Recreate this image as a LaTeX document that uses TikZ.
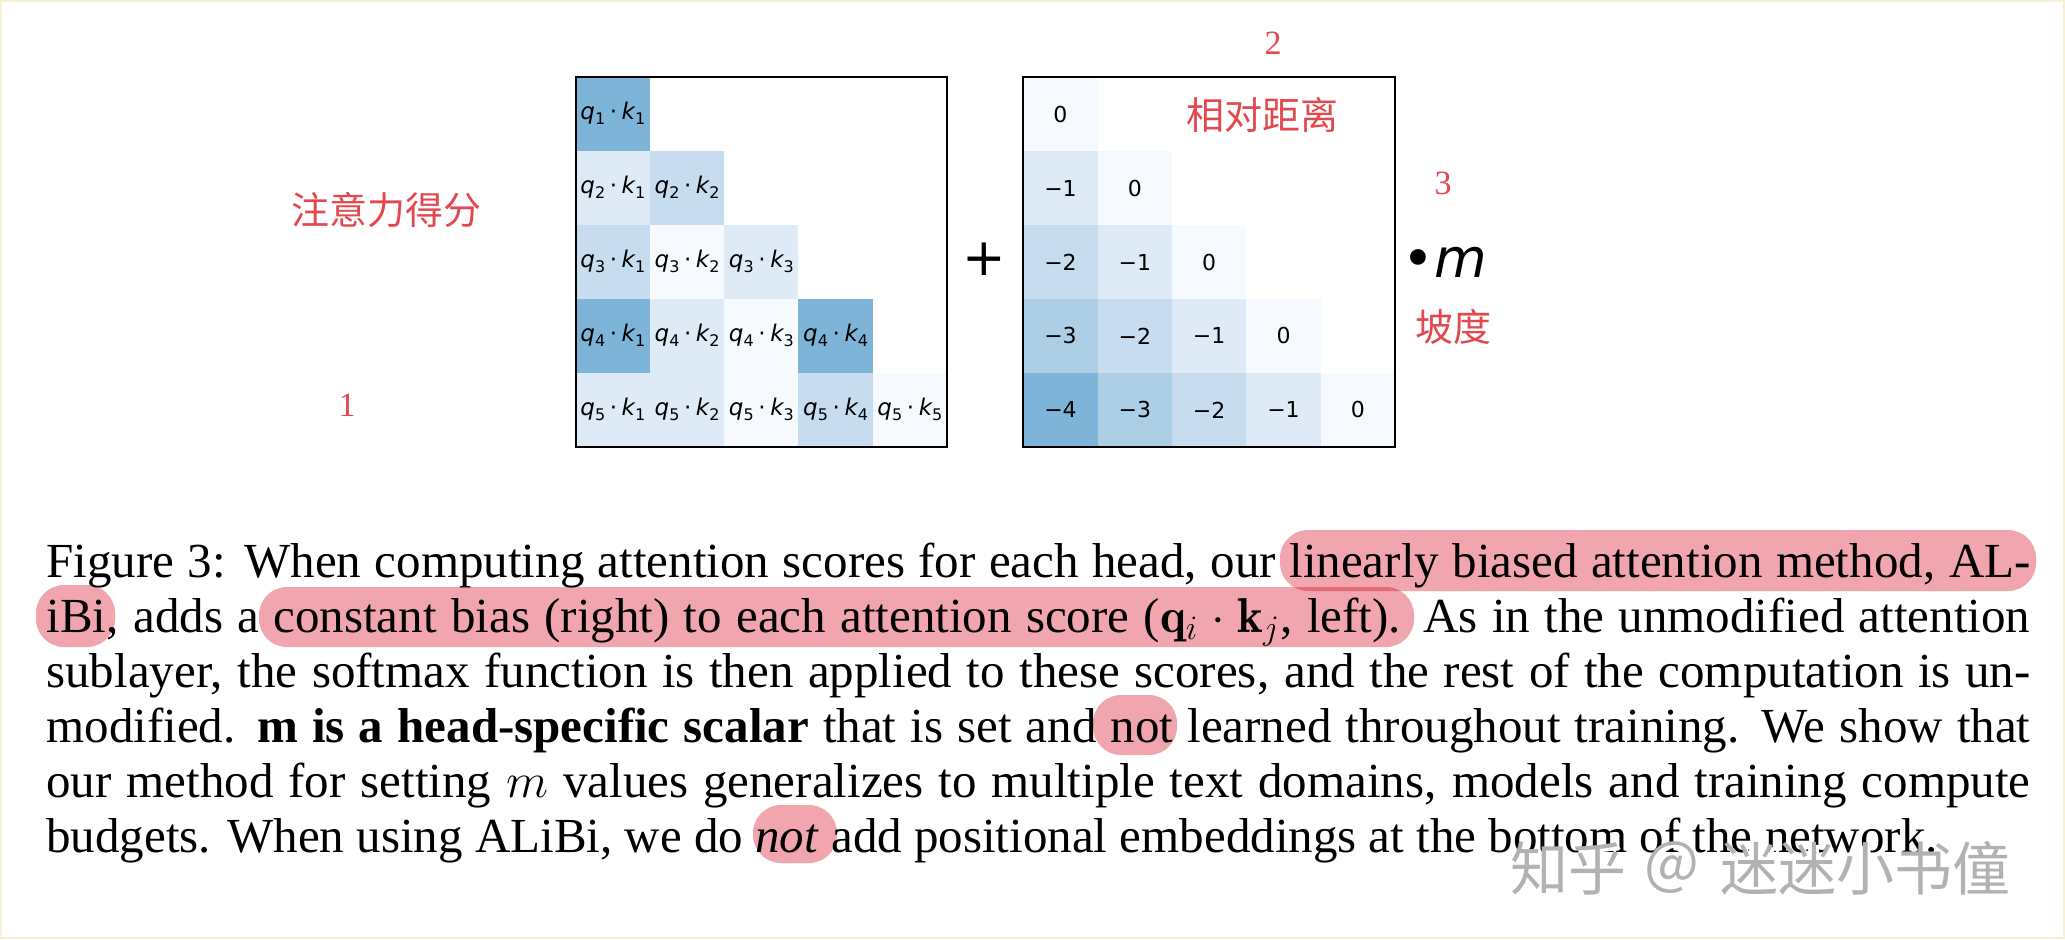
\RequirePackage{fix-cm}
\documentclass[tikz,border=0pt]{standalone}
\usepackage{fontspec}
\newfontfamily\capfont{Liberation Serif}
\newfontfamily\dvs{DejaVu Sans}
\newfontfamily\cjk{Noto Sans CJK SC}
\definecolor{cD}{RGB}{126,180,215}
\definecolor{cT}{RGB}{172,207,229}
\definecolor{cM}{RGB}{199,220,239}
\definecolor{cL}{RGB}{222,235,247}
\definecolor{cV}{RGB}{246,250,255}
\definecolor{redlbl}{RGB}{226,72,78}
\definecolor{hlpink}{RGB}{241,166,175}
\definecolor{framey}{RGB}{247,240,212}
\definecolor{wmgray}{RGB}{178,178,178}
\newcommand{\subsz}[1]{\raisebox{-0.22em}{\fontsize{8pt}{9pt}\selectfont #1}}
\newcommand{\qkc}[2]{{\itshape q}\subsz{#1}\hspace{0.2em}⋅\hspace{0.2em}{\itshape k}\subsz{#2}}
\tikzset{
  cellL/.style={minimum width=37.13pt, minimum height=37pt, inner sep=0pt, outer sep=0pt, font=\dvs\fontsize{11.5pt}{12pt}\selectfont},
  cellR/.style={minimum width=37.17pt, minimum height=36.95pt, inner sep=0pt, outer sep=0pt, font=\dvs\fontsize{11pt}{12pt}\selectfont},
  matbox/.style={draw=black, line width=1pt, inner sep=0pt},
  redlabel/.style={text=redlbl, font=\cjk\fontsize{19pt}{20pt}\selectfont, inner sep=0pt},
  rednum/.style={text=redlbl, font=\capfont\fontsize{17pt}{18pt}\selectfont, inner sep=0pt},
  capline/.style={anchor=base west, inner sep=0pt, font=\capfont\fontsize{24.5pt}{27.5pt}\selectfont},
  hl/.style={fill=hlpink, rounded corners=14pt},
  wm/.style={font=\cjk\fontsize{29pt}{30pt}\selectfont, inner sep=0pt},
}
\begin{document}
\begin{tikzpicture}[x=0.5pt, y=-0.5pt]
\useasboundingbox (0,0) rectangle (2065,939);
\fill[white] (0,0) rectangle (2065,939);
\draw[framey, line width=1pt] (1,1) rectangle (2064,938);

% left matrix (attention scores)
\foreach \r/\c/\col in {1/1/cD, 2/1/cL, 2/2/cM, 3/1/cM, 3/2/cV, 3/3/cL, 4/1/cD, 4/2/cL, 4/3/cV, 4/4/cD, 5/1/cL, 5/2/cL, 5/3/cV, 5/4/cM, 5/5/cV}
  \node[cellL, fill=\col] (L\r\c) at ({575.7+(\c-0.5)*74.26},{76.7+(\r-0.5)*74}) {\qkc{\r}{\c}};
\node[matbox, minimum width=185.65pt, minimum height=185pt] (Lmat) at (761.35,261.7) {};

% plus
\node[inner sep=0pt, font=\dvs\fontsize{26pt}{28pt}\selectfont] (plus) at (984,259) {+};

% right matrix (relative distances)
\foreach \r/\c/\col/\t in {1/1/cV/0, 2/1/cL/−1, 2/2/cV/0, 3/1/cM/−2, 3/2/cL/−1, 3/3/cV/0, 4/1/cT/−3, 4/2/cM/−2, 4/3/cL/−1, 4/4/cV/0, 5/1/cD/−4, 5/2/cT/−3, 5/3/cM/−2, 5/4/cL/−1, 5/5/cV/0}
  \node[cellR, fill=\col] (R\r\c) at ({1023.3+(\c-0.5)*74.34},{77.3+(\r-0.5)*73.9}) {\t};
\node[matbox, minimum width=185.85pt, minimum height=184.7pt] (Rmat) at (1209.15,262) {};

% slope factor
\node[anchor=base west, inner sep=0pt, font=\dvs\fontsize{27pt}{28pt}\selectfont] (slope) at (1402,277) {•{\itshape m}};

% red annotations
\node[redlabel] (lab1) at (386,210) {注意力得分};
\node[rednum] (n1) at (347,405) {1};
\node[rednum] (n2) at (1273,43) {2};
\node[redlabel] (lab2) at (1262,115) {相对距离};
\node[rednum] (n3) at (1443,183) {3};
\node[redlabel] (lab3) at (1453,327) {坡度};

% highlights
\begin{scope}[blend mode=multiply]
\fill[hl] (1280,530) rectangle (2036,591);
\fill[hl] (36,585) rectangle (115,647);
\fill[hl] (259,587) rectangle (1414,647);
\fill[hl] (1093,695) rectangle (1177,755);
\fill[hl] (753,805) rectangle (837,863);
\end{scope}

% caption
\node[capline] (cap1) at (46,577) {\makebox[992pt][s]{Figure 3: When computing attention scores for each head, our linearly biased attention method, AL-}};
\node[capline] (cap2) at (46,632) {\makebox[992pt][s]{iBi, adds a constant bias (right) to each attention score ($\mathbf{q}_i\cdot\mathbf{k}_j$, left). As in the unmodified attention}};
\node[capline] (cap3) at (46,687) {\makebox[992pt][s]{sublayer, the softmax function is then applied to these scores, and the rest of the computation is un-}};
\node[capline] (cap4) at (46,742) {\makebox[992pt][s]{modified. \textbf{m is a head-specific scalar} that is set and not learned throughout training. We show that}};
\node[capline] (cap5) at (46,797) {\makebox[992pt][s]{our method for setting $m$ values generalizes to multiple text domains, models and training compute}};
\node[capline] (cap6) at (46,852) {budgets. When using ALiBi, we do \textit{not} add positional embeddings at the bottom of the network.};

% watermark
\node[wm, text=white] (wm1s) at (1571,871) {知乎};
\node[wm, text=white] (wm2s) at (1675,871) {@};
\node[wm, text=white] (wm3s) at (1868,871) {迷迷小书僮};
\node[wm, text=wmgray] (wm1) at (1568,868) {知乎};
\node[wm, text=wmgray] (wm2) at (1672,868) {@};
\node[wm, text=wmgray] (wm3) at (1865,868) {迷迷小书僮};
\end{tikzpicture}
\end{document}
